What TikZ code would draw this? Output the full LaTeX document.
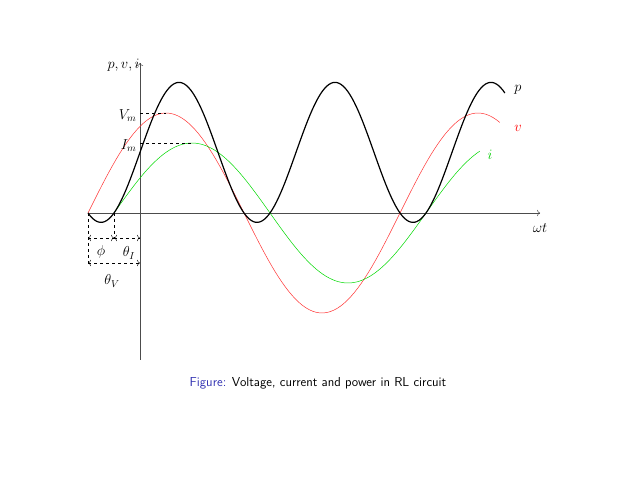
\documentclass[tikz,border=0pt]{standalone}
\usepackage{amsmath}
\usetikzlibrary{arrows.meta}
\begin{document}
\begin{tikzpicture}[x=1pt,y=1pt,font=\sffamily\fontsize{14}{16}\selectfont,
  ax/.style={-{To[length=3pt]},gray!60!black,line width=0.5pt},
  dim/.style={dashed,line width=0.4pt,{To[length=3pt]}-{To[length=3pt]}},
  guide/.style={dashed,line width=0.4pt}]
\useasboundingbox (0,0) rectangle (638,479);
\coordinate (O) at (140,266);
\coordinate (xs) at (88,266);
\coordinate (xe) at (540,266);
\coordinate (ys) at (140,119);
\coordinate (ye) at (140,416);
\draw[ax] (xs) -- (xe);
\draw[ax] (ys) -- (ye);
\node[anchor=east] (lab) at (143,414) {$p, v, i$};
\node (wt) at (540,251) {$\omega t$};
\draw[red!80!white,line width=0.5pt] plot[domain=0:475,samples=120] ({88+\x*0.866667},{266+100*sin(\x)});
\draw[green!85!black,line width=0.5pt] plot[domain=30:452,samples=120] ({88+\x*0.866667},{266+70*sin(\x-30)});
\draw[black,line width=1.2pt] plot[domain=0:481,samples=200] ({88+\x*0.866667},{266+70*(cos(30)-cos(2*\x-30))});
\node (pl) at (518,389) {$p$};
\node[red] (vl) at (518,351) {$v$};
\node[green!80!black] (il) at (490,324) {$i$};
\coordinate (vm) at (166,366);
\coordinate (im) at (192,336);
\node[anchor=east] (Vm) at (140,363) {$V_m$};
\node[anchor=east] (Im) at (140,333) {$I_m$};
\draw[guide] (140,366) -- (vm);
\draw[guide] (140,336) -- (im);
\coordinate (a1) at (88,266); \coordinate (a2) at (88,214);
\coordinate (b1) at (114,266); \coordinate (b2) at (114,240);
\draw[guide] (a1) -- (a2);
\draw[guide] (b1) -- (b2);
\draw[dim] (88,241) -- (114,241);
\draw[dim] (114,241) -- (140,241);
\draw[dim] (88,216) -- (140,216);
\node (phi) at (101,227) {$\phi$};
\node (thI) at (129,226) {$\theta_I$};
\node (thV) at (112,198) {$\theta_V$};
\node[font=\sffamily\fontsize{13}{15}\selectfont] (cap) at (318,96) {\textcolor[RGB]{51,51,178}{Figure:} Voltage, current and power in RL circuit};
\end{tikzpicture}
\end{document}
